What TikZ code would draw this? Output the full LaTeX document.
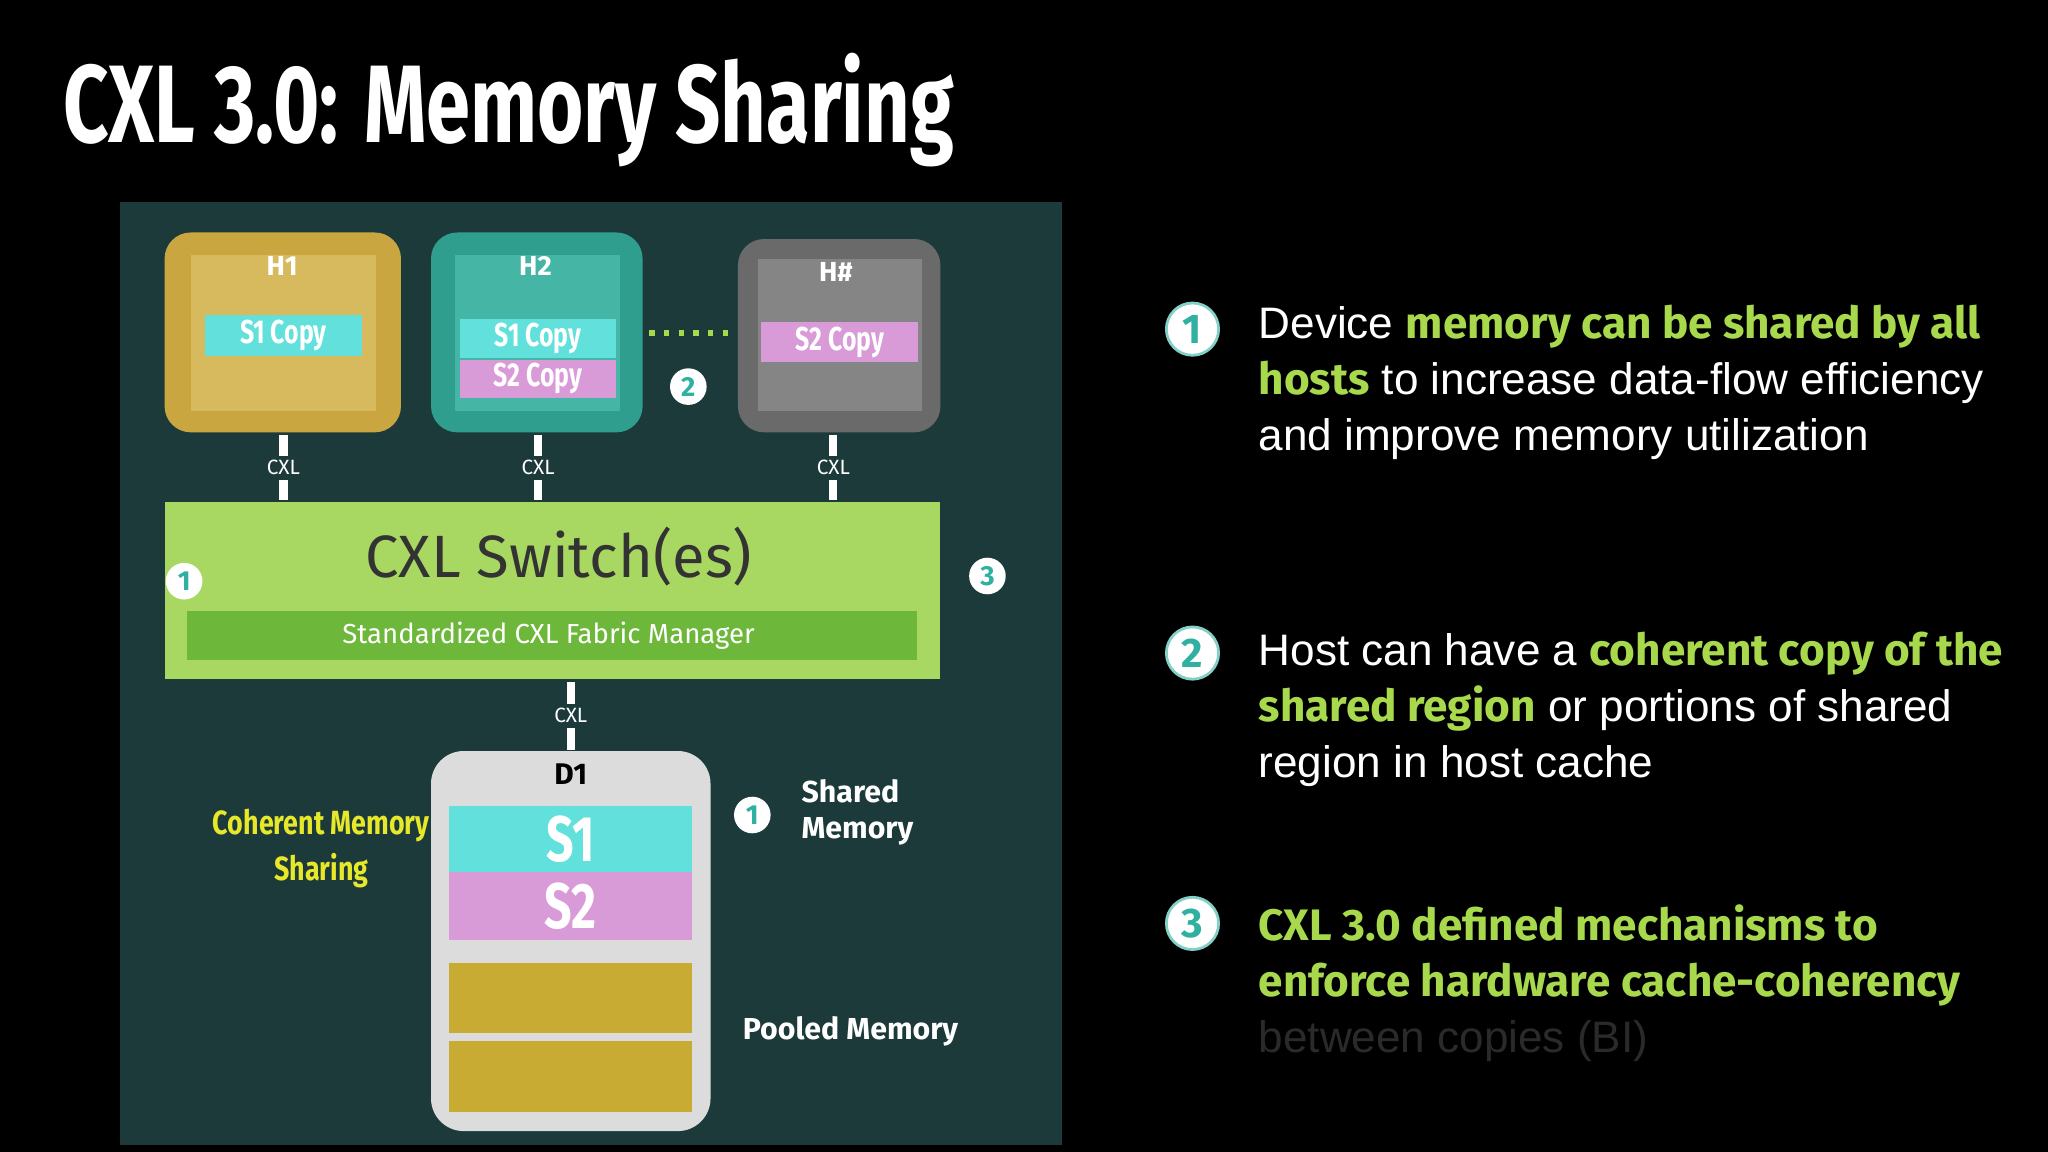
\documentclass[tikz,border=0pt]{standalone}
\usepackage{fontspec}
\usetikzlibrary{calc}
\setmainfont{Liberation Sans}
\newfontfamily\fira{Fira Sans}
\definecolor{panel}{HTML}{1D3A3B}
\definecolor{hgold}{HTML}{C9A640}
\definecolor{hgoldin}{HTML}{D8BA5E}
\definecolor{hteal}{HTML}{2F9E8F}
\definecolor{htealin}{HTML}{45B5A6}
\definecolor{hgray}{HTML}{6A6A6A}
\definecolor{hgrayin}{HTML}{858585}
\definecolor{cyn}{HTML}{62E0DC}
\definecolor{pnk}{HTML}{D99AD8}
\definecolor{swg}{HTML}{A9D862}
\definecolor{swgin}{HTML}{6DB83A}
\definecolor{dgray}{HTML}{DCDCDC}
\definecolor{blk}{HTML}{C8AB32}
\definecolor{accent}{HTML}{A8D84C}
\definecolor{numc}{HTML}{2FB0A0}
\definecolor{dim}{HTML}{2A2A2A}
\definecolor{yel}{HTML}{E8E82A}
\tikzset{
 cond/.style={font=\fira\bfseries},
 copyt/.style={font=\fira\bfseries\fontsize{7.2}{7.2}\selectfont},
 memrect/.style={inner sep=0pt},
 cxllink/.style={draw=white,line width=1.8pt},
 cxlt/.style={fill=panel,inner sep=1pt,text=white!80,font=\fira\fontsize{4.5}{5}\selectfont},
 smallnum/.style={circle,fill=white,text=numc,inner sep=0pt,minimum size=0.28cm,font=\fira\bfseries\fontsize{6}{6}\selectfont},
 bignum/.style={circle,fill=white,draw=numc!60,line width=0.6pt,text=numc,inner sep=0pt,minimum size=0.4cm,font=\fira\bfseries\fontsize{9}{9}\selectfont},
 rtext/.style={anchor=north west,align=left,text=white,font=\fontsize{9.6}{12.2}\selectfont,inner sep=0pt}
}
\newcommand{\ac}[1]{\textcolor{accent}{\fira\bfseries #1}}
\begin{document}
\begin{tikzpicture}[x=0.01cm,y=-0.01cm]
\fill[black] (0,0) rectangle (1568,882);
\useasboundingbox (0,0) rectangle (1568,882);
\node[cond,anchor=west,text=white,inner sep=0pt] (title) at (48,84) {\scalebox{0.72}[1]{\fontsize{24}{28}\selectfont CXL 3.0: Memory Sharing}};
\fill[panel] (92,155) rectangle (813,877);
% hosts
\fill[hgold,rounded corners=0.2cm] (126,178) rectangle (307,331);
\fill[hgoldin] (146,195) rectangle (288,315);
\node[cond,text=white,font=\fira\bfseries\fontsize{6}{6}\selectfont] (h1l) at (216,204) {H1};
\node[memrect,fill=cyn,minimum width=1.2cm,minimum height=0.31cm,text=white,copyt] (h1s1) at (217,257) {\scalebox{0.75}[1]{S1 Copy}};
\fill[hteal,rounded corners=0.2cm] (330,178) rectangle (492,331);
\fill[htealin] (348,195) rectangle (475,315);
\node[text=white,font=\fira\bfseries\fontsize{6}{6}\selectfont] (h2l) at (410,204) {H2};
\node[memrect,fill=cyn,minimum width=1.19cm,minimum height=0.3cm,text=white,copyt] (h2s1) at (412,259) {\scalebox{0.75}[1]{S1 Copy}};
\node[memrect,fill=pnk,minimum width=1.19cm,minimum height=0.29cm,text=white,copyt] (h2s2) at (412,290) {\scalebox{0.75}[1]{S2 Copy}};
\fill[hgray,rounded corners=0.2cm] (565,183) rectangle (720,331);
\fill[hgrayin] (580,198) rectangle (706,315);
\node[text=white,font=\fira\bfseries\fontsize{6}{6}\selectfont] (h3l) at (640,208) {H\#};
\node[memrect,fill=pnk,minimum width=1.2cm,minimum height=0.31cm,text=white,copyt] (h3s2) at (643,262) {\scalebox{0.75}[1]{S2 Copy}};
\coordinate (dl1) at (497,255); \coordinate (dl2) at (560,255);
\draw[accent,dotted,line width=1.2pt] (dl1) -- (dl2);
\node[smallnum] (n2a) at (527,296) {2};
% switch
\fill[swg] (126,384) rectangle (720,520);
\fill[swgin] (143,468) rectangle (702,505);
\node[text=black!80,font=\fira\fontsize{13}{13}\selectfont] (sw) at (428,426) {CXL Switch(es)};
\node[text=white!90,font=\fira\fontsize{6}{6}\selectfont] (fm) at (420,487) {Standardized CXL Fabric Manager};
\node[smallnum] (n1a) at (141,445) {1};
\node[smallnum] (n3a) at (756,441) {3};
% links
\coordinate (a1) at (217,333); \coordinate (b1) at (217,383);
\coordinate (a2) at (412,333); \coordinate (b2) at (412,383);
\coordinate (a3) at (638,333); \coordinate (b3) at (638,383);
\coordinate (a4) at (437,522); \coordinate (b4) at (437,574);
\foreach \i in {1,2,3,4} {\draw[cxllink] (a\i) -- (b\i); \node[cxlt] at ($(a\i)!0.5!(b\i)$) {CXL};}
% D1
\fill[dgray,rounded corners=0.25cm] (330,575) rectangle (544,866);
\node[font=\fira\bfseries\fontsize{6.5}{6.5}\selectfont] (d1l) at (437,593) {D1};
\node[memrect,fill=cyn,minimum width=1.86cm,minimum height=0.51cm,text=white,copyt] (ds1) at (437,642.5) {\scalebox{0.75}[1]{\fontsize{14}{14}\selectfont S1}};
\node[memrect,fill=pnk,minimum width=1.86cm,minimum height=0.52cm,text=white,copyt] (ds2) at (437,694) {\scalebox{0.75}[1]{\fontsize{14}{14}\selectfont S2}};
\node[memrect,fill=blk,minimum width=1.86cm,minimum height=0.54cm] (dp1) at (437,764) {};
\node[memrect,fill=blk,minimum width=1.86cm,minimum height=0.54cm] (dp2) at (437,824) {};
\node[text=yel,align=center,font=\fira\bfseries\fontsize{7.3}{10}\selectfont] (coh) at (246,650) {\scalebox{0.8}[1]{Coherent Memory}\\\scalebox{0.8}[1]{Sharing}};
\node[smallnum] (n1b) at (576,624) {1};
\node[text=white,align=left,anchor=west,inner sep=0pt,font=\fira\bfseries\fontsize{6.6}{8}\selectfont] (shm) at (613,622) {Shared\\Memory};
\node[text=white,anchor=west,inner sep=0pt,font=\fira\bfseries\fontsize{6.6}{8}\selectfont] (pm) at (568,790) {Pooled Memory};
% right text
\node[bignum] (r1) at (913,252) {1};
\node[rtext] (t1) at (963,233) {Device \ac{memory can be shared by all}\\\ac{hosts} to increase data-flow efficiency\\and improve memory utilization};
\node[bignum] (r2) at (913,500) {2};
\node[rtext] (t2) at (963,483) {Host can have a \ac{coherent copy of the}\\\ac{shared region} or portions of shared\\region in host cache};
\node[bignum] (r3) at (913,707) {3};
\node[rtext] (t3) at (963,692) {\ac{CXL 3.0 defined mechanisms to}\\\ac{enforce hardware cache-coherency}\\\textcolor{dim}{between copies (BI)}};
\end{tikzpicture}
\end{document}
